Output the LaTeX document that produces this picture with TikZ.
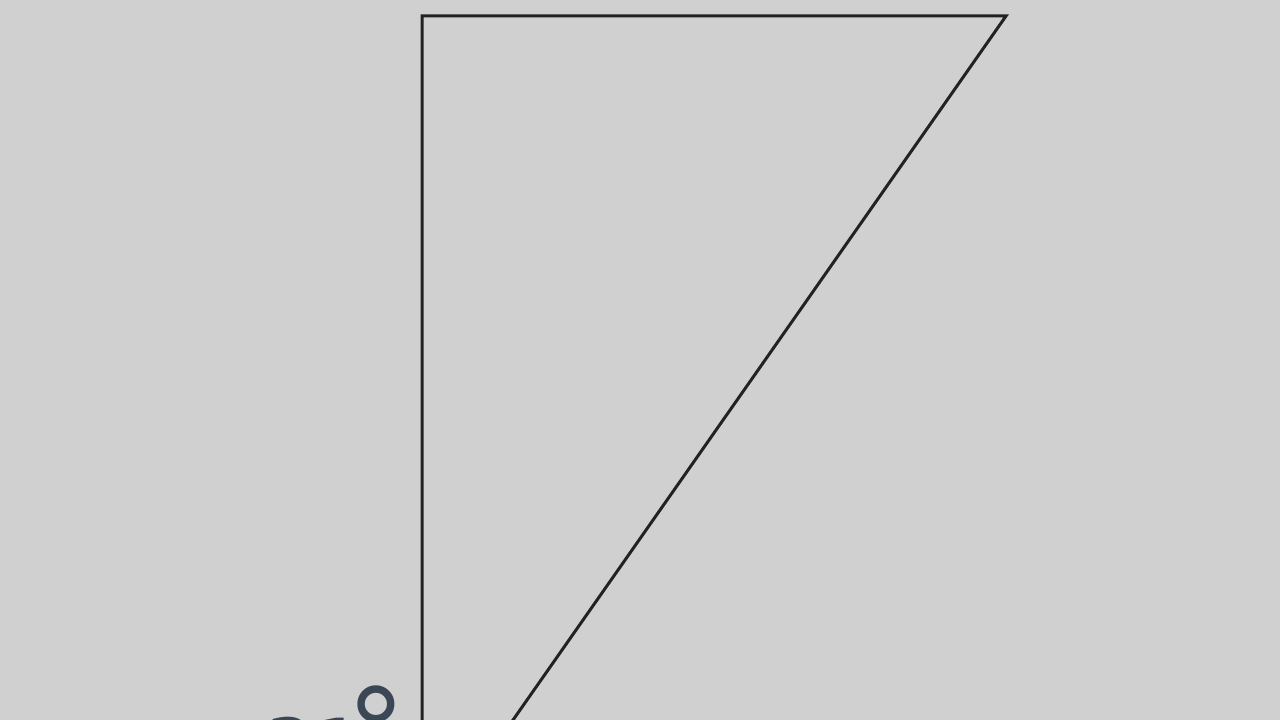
\documentclass[tikz,border=0pt]{standalone}
\usepackage{fontspec}
\setmainfont{DejaVu Sans}
\usepackage{xcolor}
\usepackage{tikz}
\definecolor{bggray}{HTML}{D0D0D0}
\definecolor{linegray}{HTML}{222222}
\definecolor{labelgray}{HTML}{3C4755}
\tikzset{
  edge/.style={draw=linegray, line width=0.85pt, line join=miter},
  anglelabel/.style={text=labelgray, font=\fontsize{22}{26}\selectfont, inner sep=0pt, anchor=base west}
}
\begin{document}
\begin{tikzpicture}
	\useasboundingbox[fill=bggray] (0,0) rectangle (12.8,7.2);
	\coordinate (base) at (4.22,-0.2);
	\coordinate (corner) at (4.22,7.04);
	\coordinate (tip) at (10.06,7.04);
	\coordinate (foot) at (4.99,-0.2);
	\draw[edge] (base) -- (corner) -- (tip) -- (foot);
	\node[anglelabel] (angle) at (2.65,-0.55) {31\kern-5pt{\fontsize{34}{40}\selectfont °}};
\end{tikzpicture}
\end{document}
